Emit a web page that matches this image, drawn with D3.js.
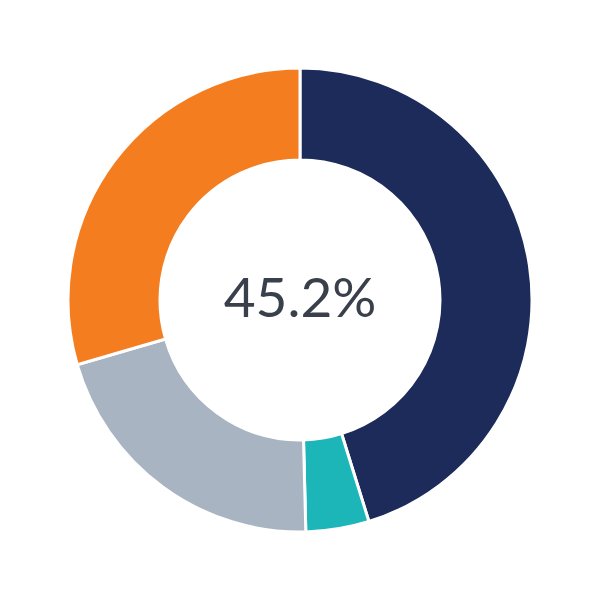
<!DOCTYPE html>
<html><head><meta charset="utf-8">
<script src="https://cdn.jsdelivr.net/npm/d3@7"></script>
<style>html,body{margin:0;padding:0;background:#fff;}</style>
</head><body>
<svg id="c" width="600" height="600"></svg>
<script>
const categories = ["A", "B", "C", "D"];
const values = [45.2, 4.4, 20.9, 29.5];
const colors = ["#1c2b5a", "#1cb5b8", "#a9b4c2", "#f47d20"];
const centerLabel = "45.2%";

const svg = d3.select("#c");
const g = svg.append("g").attr("transform", "translate(300,300)");
const pie = d3.pie().sort(null).value(d => d.v);
const arc = d3.arc().innerRadius(140).outerRadius(232);
const data = categories.map((c, i) => ({c, v: values[i]}));
g.selectAll("path").data(pie(data)).join("path")
  .attr("d", arc)
  .attr("fill", (d, i) => colors[i])
  .attr("stroke", "#fff")
  .attr("stroke-width", 3);
g.append("text").text(centerLabel)
  .attr("text-anchor", "middle")
  .attr("y", 17)
  .attr("font-family", "Lato")
  .attr("font-size", 55)
  .attr("fill", "#3a404b");
</script>
</body></html>
